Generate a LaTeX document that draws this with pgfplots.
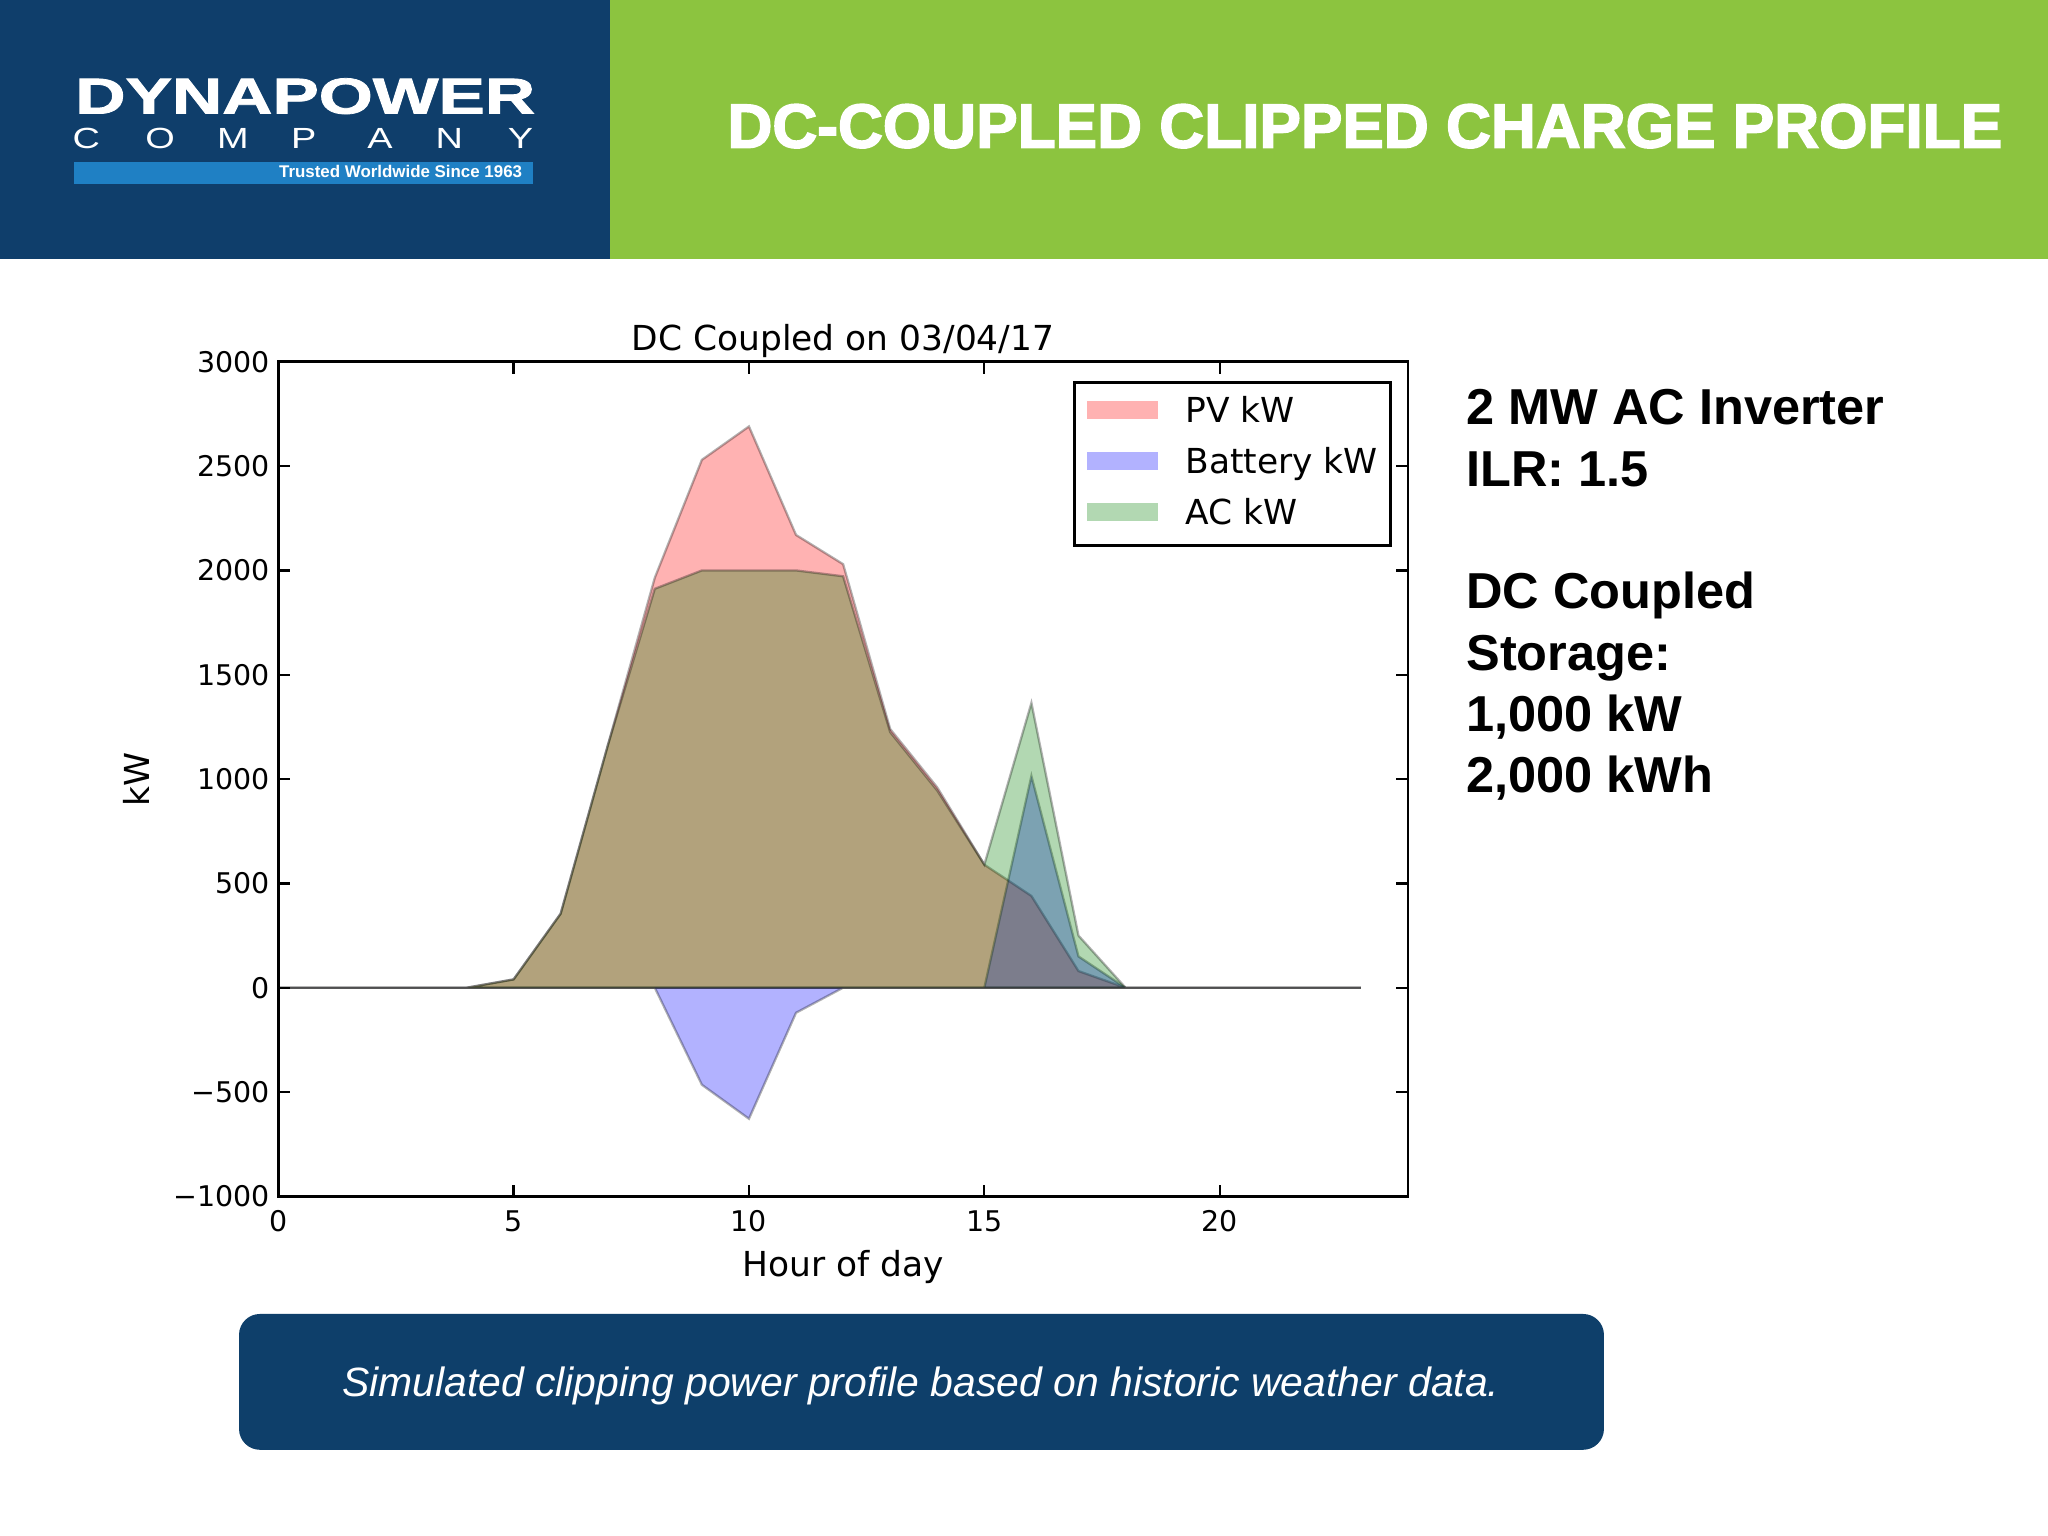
\documentclass[border=0pt]{standalone}
\usepackage{pgfplots}
\pgfplotsset{compat=1.18}
\usepackage{graphicx}
\usepackage{fontspec}
\setmainfont{Liberation Sans}
\newfontfamily\dejavu{DejaVu Sans}
\newfontfamily\heavy[FakeBold=2.5]{Liberation Sans Bold}
\newfontfamily\logofont[FakeBold=1.5]{Liberation Sans Bold}
\definecolor{navy}{HTML}{0F3E6B}
\definecolor{slidegreen}{HTML}{8CC43F}
\definecolor{barblue}{HTML}{1F80C4}
\definecolor{capnavy}{HTML}{0E3F6A}
\definecolor{mplgreen}{RGB}{0,128,0}

\pgfplotstableread{
x pv bat ac
0 0 0 0
1 0 0 0
2 0 0 0
3 0 0 0
4 0 0 0
5 40 0 40
6 355 0 355
7 1160 0 1160
8 1965 0 1912
9 2530 -465 2000
10 2690 -628 2000
11 2170 -120 2000
12 2030 0 1972
13 1240 0 1225
14 960 0 945
15 590 0 590
16 440 1015 1365
17 80 150 250
18 0 0 0
19 0 0 0
20 0 0 0
21 0 0 0
22 0 0 0
23 0 0 0
}\datatable

\begin{document}
\begin{tikzpicture}
\fill[white] (0,0) rectangle (15.68,11.76);
\begin{scope}[shift={(0cm,11.76cm)}, x=0.1mm, y=-0.1mm]
  % header
  \fill[navy] (0,0) rectangle (467,198);
  \fill[slidegreen] (467,0) rectangle (1568,198);
  \node[anchor=base, text=white, inner sep=0pt] at (1045,113)
    {\resizebox{9.76cm}{!}{\heavy DC-COUPLED CLIPPED CHARGE PROFILE}};
  % logo
  \node[anchor=base west, text=white, inner sep=0pt] at (57,87)
    {\resizebox{3.52cm}{0.27cm}{\logofont DYNAPOWER}};
  \foreach \cx/\l in {66/C,122.5/O,178.4/M,232.6/P,291/A,344/N,398.5/Y}{
    \node[anchor=base, text=white, inner sep=0pt] at (\cx,114)
      {\scalebox{1.3}[1]{\fontsize{6.35}{7}\selectfont \l}};
  }
  \fill[barblue] (57,124) rectangle (408,141);
  \node[anchor=base west, text=white, inner sep=0pt] at (213,136)
    {\resizebox{1.86cm}{!}{\bfseries Trusted Worldwide Since 1963}};
  % right text
  \foreach \yy/\t in {325.4/{2 MW AC Inverter},372.3/{ILR: 1.5},466.1/{DC Coupled},513/{Storage:},559.9/{1,000 kW},606.8/{2,000 kWh}}{
    \node[anchor=base west, inner sep=0pt] at (1122,\yy)
      {\fontsize{11}{13}\selectfont\bfseries \t};
  }
  % caption box
  \fill[capnavy, rounded corners=1.6mm] (183,1006) rectangle (1228,1110);
  \node[anchor=base, text=white, inner sep=0pt] at (705,1069)
    {\fontsize{8.91}{10}\selectfont\itshape Simulated clipping power profile based on historic weather data.};
\end{scope}

\begin{axis}[
  at={(2.13cm,2.60cm)}, anchor=south west,
  width=8.65cm, height=6.39cm, scale only axis,
  xmin=0, xmax=24, ymin=-1000, ymax=3000,
  xtick={0,5,10,15,20}, xticklabels={0,5,10,15,20},
  ytick={-1000,-500,0,500,1000,1500,2000,2500,3000},
  yticklabels={−1000,−500,0,500,1000,1500,2000,2500,3000},
  tick align=inside, major tick length=0.9mm,
  axis line style={line width=0.6pt},
  every tick/.style={black, line width=0.5pt},
  tick label style={font=\dejavu\fontsize{6.2}{7}\selectfont, inner sep=0pt},
  xticklabel style={anchor=north, yshift=-1.0mm},
  yticklabel style={anchor=east, xshift=-0.6mm},
  title={DC Coupled on 03/04/17},
  every axis title shift=0pt,
  title style={at={(0.5,1.0141)}, anchor=base, inner sep=0pt, font=\dejavu\fontsize{7.5}{9}\selectfont},
  xlabel={Hour of day},
  xlabel style={at={(0.5,-0.0955)}, anchor=base, inner sep=0pt, font=\dejavu\fontsize{7.5}{9}\selectfont},
  ylabel={kW},
  ylabel style={at={(-0.1139,0.5)}, anchor=base, rotate=0, inner sep=0pt, font=\dejavu\fontsize{7.5}{9}\selectfont},
  legend image code/.code={\fill[#1, draw=none] (0mm,-0.45mm) rectangle (5.4mm,0.95mm);},
  legend cell align=left,
  legend style={at={(0.986,0.977)}, anchor=north east, draw=black, line width=0.6pt, fill=white,
    inner xsep=1mm, inner ysep=1.05mm, row sep=1.3mm,
    font=\dejavu\fontsize{7.5}{9}\selectfont,
    nodes={inner sep=0pt, text height=2mm, text depth=0.6mm},
    /tikz/every odd column/.append style={column sep=2.1mm}},
]
\addplot[fill=red, fill opacity=0.3, draw=black, draw opacity=0.3, line width=0.5pt]
  table[x=x, y=pv] {\datatable} \closedcycle;
\addlegendentry{PV kW}
\addplot[fill=blue, fill opacity=0.3, draw=black, draw opacity=0.3, line width=0.5pt]
  table[x=x, y=bat] {\datatable} \closedcycle;
\addlegendentry{Battery kW}
\addplot[fill=mplgreen, fill opacity=0.3, draw=black, draw opacity=0.3, line width=0.5pt]
  table[x=x, y=ac] {\datatable} \closedcycle;
\addlegendentry{AC kW}
\end{axis}
\pgfresetboundingbox
\useasboundingbox (0,0) rectangle (15.68,11.76);
\end{tikzpicture}
\end{document}
